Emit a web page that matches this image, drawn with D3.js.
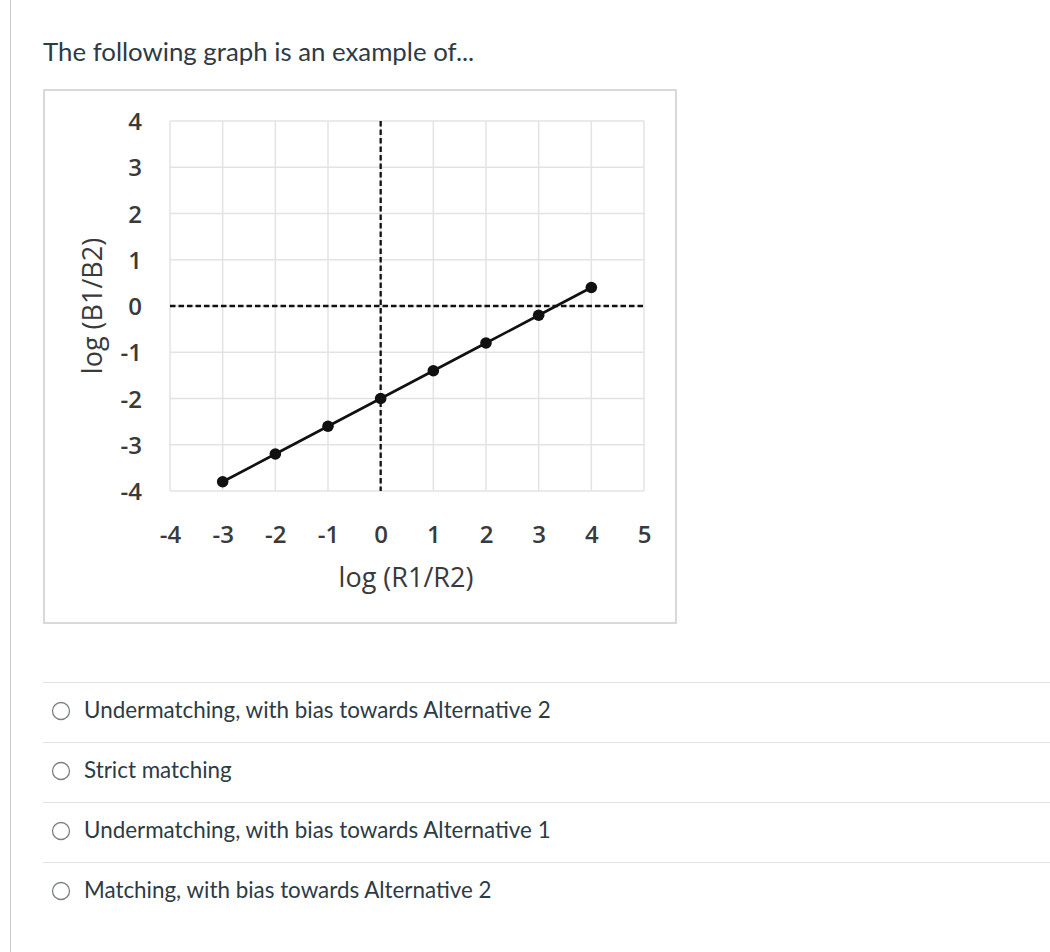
<!DOCTYPE html>
<html>
<head>
<meta charset="utf-8">
<script src="https://cdn.jsdelivr.net/npm/d3@7"></script>
<style>
  html, body { margin: 0; padding: 0; background: #fff; }
  svg { display: block; }
</style>
</head>
<body>
<svg id="page" width="1050" height="952"></svg>
<script>
// ---- data ----
const xValues = [-3, -2, -1, 0, 1, 2, 3, 4];
const yValues = [-3.8, -3.2, -2.6, -2.0, -1.4, -0.8, -0.2, 0.4];
const xTicks = [-4, -3, -2, -1, 0, 1, 2, 3, 4, 5];
const yTicks = [-4, -3, -2, -1, 0, 1, 2, 3, 4];
const xTitle = "log (R1/R2)";
const yTitle = "log (B1/B2)";
const question = "The following graph is an example of...";
const answers = [
  "Undermatching, with bias towards Alternative 2",
  "Strict matching",
  "Undermatching, with bias towards Alternative 1",
  "Matching, with bias towards Alternative 2"
];

const svg = d3.select("#page");
const textColor = "#2d3b45";

// left page border
svg.append("line").attr("x1", 10.5).attr("x2", 10.5).attr("y1", 0).attr("y2", 952)
  .attr("stroke", "#c7cdd1").attr("stroke-width", 1);

// question text
svg.append("text").attr("x", 43).attr("y", 61)
  .attr("font-family", "Lato, sans-serif").attr("font-size", 25.8)
  .attr("fill", textColor).text(question);

// chart image box
svg.append("rect").attr("x", 44).attr("y", 90).attr("width", 632).attr("height", 533)
  .attr("fill", "#fff").attr("stroke", "#d9d9d9").attr("stroke-width", 2);

// scales
const x = d3.scaleLinear().domain([-4, 5]).range([170, 644]);
const y = d3.scaleLinear().domain([-4, 4]).range([491, 121]);

const chartFont = "'Open Sans', sans-serif";
const labelColor = "#3a3a3a";
const g = svg.append("g");

// gridlines
g.append("g").selectAll("line").data(xTicks).join("line")
  .attr("x1", d => x(d)).attr("x2", d => x(d))
  .attr("y1", y(4)).attr("y2", y(-4))
  .attr("stroke", "#e3e3e3").attr("stroke-width", 1.5);
g.append("g").selectAll("line").data(yTicks).join("line")
  .attr("x1", x(-4)).attr("x2", x(5))
  .attr("y1", d => y(d)).attr("y2", d => y(d))
  .attr("stroke", "#e3e3e3").attr("stroke-width", 1.5);

// dashed zero axes
g.append("line").attr("x1", x(-4)).attr("x2", x(5)).attr("y1", y(0)).attr("y2", y(0))
  .attr("stroke", "#111").attr("stroke-width", 2.3).attr("stroke-dasharray", "5.5,3");
g.append("line").attr("x1", x(0)).attr("x2", x(0)).attr("y1", y(4)).attr("y2", y(-4))
  .attr("stroke", "#111").attr("stroke-width", 2.3).attr("stroke-dasharray", "5.5,3");

// tick labels via axes (no domain/tick lines)
const fmt = d => String(d);
const xAxis = d3.axisBottom(x).tickValues(xTicks).tickSize(0).tickPadding(0).tickFormat(fmt);
const xa = g.append("g").attr("transform", `translate(0, ${y(-4) + 52})`).call(xAxis);
xa.select(".domain").remove();
xa.selectAll("text").attr("font-family", chartFont).style("font-size", "24px")
  .attr("font-weight", 600).attr("fill", labelColor).attr("dy", 0).attr("y", 0);

const yAxis = d3.axisLeft(y).tickValues(yTicks).tickSize(0).tickPadding(0).tickFormat(fmt);
const ya = g.append("g").attr("transform", `translate(142, 0)`).call(yAxis);
ya.select(".domain").remove();
ya.selectAll("text").attr("font-family", chartFont).style("font-size", "24px")
  .attr("font-weight", 600).attr("fill", labelColor).attr("text-anchor", "end").attr("dy", "0.36em");

// axis titles
g.append("text").attr("x", 406).attr("y", 587).attr("text-anchor", "middle")
  .attr("font-family", chartFont).style("font-size", "27px").attr("fill", labelColor).text(xTitle);
g.append("text").attr("transform", `translate(102, ${y(0)}) rotate(-90)`).attr("text-anchor", "middle")
  .attr("font-family", chartFont).style("font-size", "27px").attr("fill", labelColor).text(yTitle);

// data line + points
const pts = xValues.map((v, i) => [v, yValues[i]]);
g.append("path").datum(pts)
  .attr("d", d3.line().x(d => x(d[0])).y(d => y(d[1])))
  .attr("fill", "none").attr("stroke", "#111").attr("stroke-width", 2.6);
g.append("g").selectAll("circle").data(pts).join("circle")
  .attr("cx", d => x(d[0])).attr("cy", d => y(d[1])).attr("r", 5.8).attr("fill", "#111");

// answers
const rowTop = 682, rowH = 60;
const ans = svg.append("g");
answers.forEach((a, i) => {
  const top = rowTop + i * rowH;
  ans.append("line").attr("x1", 43).attr("x2", 1050).attr("y1", top + 0.5).attr("y2", top + 0.5)
    .attr("stroke", "#dfe3e6").attr("stroke-width", 1);
  ans.append("circle").attr("cx", 61).attr("cy", top + 29).attr("r", 8.5)
    .attr("fill", "#fff").attr("stroke", "#7a7f83").attr("stroke-width", 1.3);
  ans.append("text").attr("x", 84).attr("y", top + 36)
    .attr("font-family", "Lato, sans-serif").attr("font-size", 22.4)
    .attr("fill", textColor).text(a);
});
</script>
</body>
</html>
